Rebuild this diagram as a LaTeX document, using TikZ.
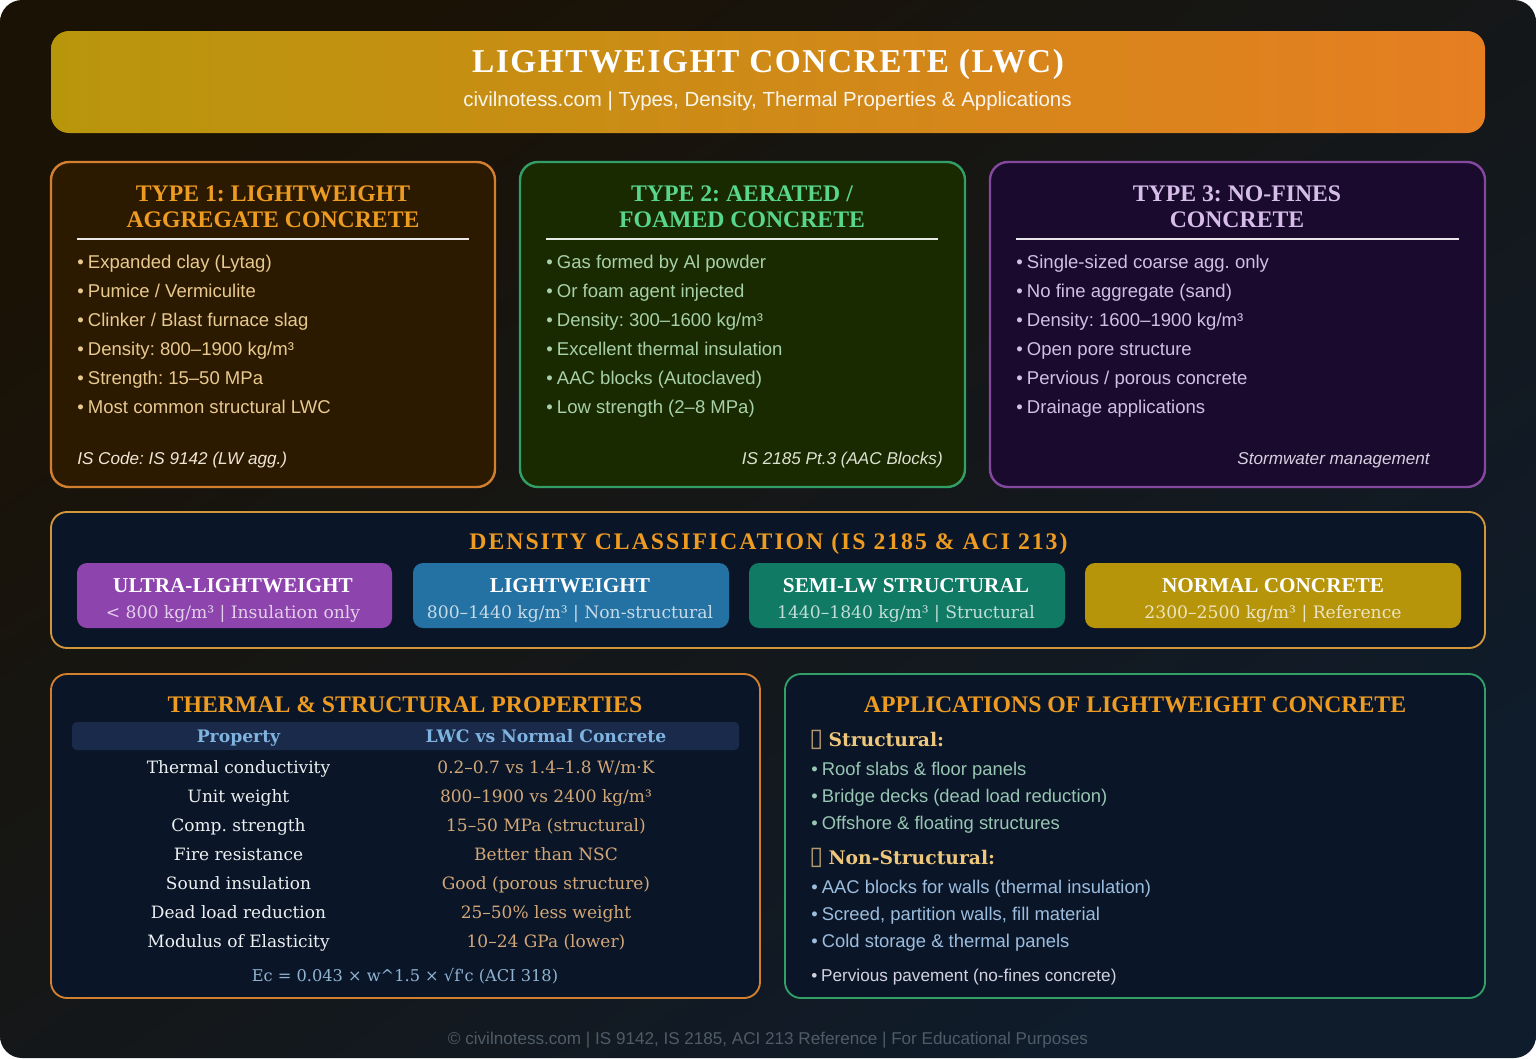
\documentclass[tikz,border=0pt]{standalone}
\usepackage{fontspec}
\setmainfont{Liberation Sans}
\newfontfamily\headface{Liberation Serif}
\newfontfamily\serifface{DejaVu Serif}
\newfontfamily\boxface{DejaVu Sans}
\frenchspacing
\definecolor{bgA}{HTML}{1A1205}
\definecolor{bgB}{HTML}{0F1C2C}
\definecolor{headA}{HTML}{B8960C}
\definecolor{headB}{HTML}{E67E22}
\definecolor{panel}{HTML}{0A1628}
\definecolor{orange}{HTML}{EE9B22}
\definecolor{edgeO}{HTML}{D27F30}
\definecolor{edgeD}{HTML}{D2963A}
\definecolor{edgeG}{HTML}{32A066}
\definecolor{edgeP}{HTML}{84499F}
\definecolor{fillO}{HTML}{2C1A00}
\definecolor{fillG}{HTML}{1A2A00}
\definecolor{fillP}{HTML}{1A0A2E}
\definecolor{textO}{HTML}{E8C98F}
\definecolor{textG}{HTML}{A8D0AA}
\definecolor{textP}{HTML}{D0C0E2}
\definecolor{noteO}{HTML}{F0E6D8}
\definecolor{noteG}{HTML}{DCE2D2}
\definecolor{noteP}{HTML}{D6D0E0}
\definecolor{titleG}{HTML}{58D68D}
\definecolor{titleP}{HTML}{D7BEEA}
\definecolor{pillP}{HTML}{8E44AD}
\definecolor{pillB}{HTML}{2471A3}
\definecolor{pillG}{HTML}{117A65}
\definecolor{pillY}{HTML}{B7950B}
\definecolor{band}{HTML}{1A2A4A}
\definecolor{bandtext}{HTML}{7FB3E0}
\definecolor{rowval}{HTML}{D3A878}
\definecolor{rowkey}{HTML}{ECF0F1}
\definecolor{formula}{HTML}{90B4D2}
\definecolor{appG}{HTML}{98C6B2}
\definecolor{appB}{HTML}{9CBDDE}
\definecolor{appC}{HTML}{D2D2DE}
\definecolor{apphead}{HTML}{EEC67C}
\definecolor{appbox}{HTML}{B49A70}
\definecolor{foot}{HTML}{4F5B66}
\newcommand{\px}[2]{\fontsize{#1}{#2}\selectfont}
\newcommand{\tofu}{\makebox[13pt][l]{\color{appbox}\boxface\mdseries\hspace{-1.5pt}\fontsize{19}{19}\selectfont ▯}}
\tikzset{
  sans/.style = {anchor=base west, inner sep=0pt, font=\px{13.9}{17}},
  bigtitle/.style = {anchor=base, inner sep=0pt, text=white, font=\headface\bfseries\addfontfeature{LetterSpace=4.65}\px{25}{28}},
  cardhead/.style = {anchor=base, inner sep=0pt, font=\headface\bfseries\px{17.8}{20}},
  sechead/.style = {anchor=base, inner sep=0pt, text=orange, font=\headface\bfseries\px{17.8}{20}},
  pillhead/.style = {anchor=base, inner sep=0pt, text=white, font=\headface\bfseries\px{15.9}{18}},
  pillsub/.style = {anchor=base, inner sep=0pt, font=\serifface\px{12.87}{16}},
  rowtext/.style = {anchor=base, inner sep=0pt, font=\serifface\px{12.75}{16}},
  apphd/.style = {anchor=base west, inner sep=0pt, text=apphead, font=\serifface\bfseries\px{14.06}{18}},
  note/.style = {inner sep=0pt, font=\itshape\px{12.85}{16}}
}
\begin{document}
\begin{tikzpicture}[x=0.75pt,y=-0.75pt]
  \useasboundingbox (0,0) rectangle (1536,1058);
  % page
  \shade[top color=bgA,bottom color=bgB,shading angle=34.6,rounded corners=16.5pt] (0,0) rectangle (1536,1058);
  % header
  \shade[left color=headA,right color=headB,rounded corners=13.5pt] (51,31) rectangle (1485,133);
  \node[bigtitle] (title) at (768,72) {LIGHTWEIGHT CONCRETE (LWC)};
  \node[anchor=base,inner sep=0pt,text=white,opacity=0.92,font=\px{15.33}{18}] (subtitle) at (767.5,106) {civilnotess.com | Types, Density, Thermal Properties \& Applications};
  % type cards
  \foreach \name/\xa/\xb/\ecol/\fcol in {one/51/495/edgeO/fillO,two/520/965/edgeG/fillG,three/990/1485/edgeP/fillP} {
    \draw[\ecol,fill=\fcol,line width=1.8pt,rounded corners=13.5pt] (\xa,162) rectangle (\xb,487);
  }
  \draw[white,opacity=0.9,line width=1.1pt] (77,239) -- (469,239);
  \draw[white,opacity=0.9,line width=1.1pt] (546,239) -- (938,239);
  \draw[white,opacity=0.9,line width=1.1pt] (1016,239) -- (1459,239);
  \node[cardhead,text=orange] (oneA) at (273,201.5) {TYPE 1: LIGHTWEIGHT};
  \node[cardhead,text=orange] (oneB) at (273,227) {AGGREGATE CONCRETE};
  \node[cardhead,text=titleG] (twoA) at (742,201.5) {TYPE 2: AERATED /};
  \node[cardhead,text=titleG] (twoB) at (742,227) {FOAMED CONCRETE};
  \node[cardhead,text=titleP] (threeA) at (1237,201.5) {TYPE 3: NO-FINES};
  \node[cardhead,text=titleP] (threeB) at (1237,227) {CONCRETE};
  \foreach \Y/\txt [count=\i] in {268/{Expanded clay (Lytag)},297/{Pumice / Vermiculite},326/{Clinker / Blast furnace slag},355/{Density: 800–1900 kg/m³},384/{Strength: 15–50 MPa},413/{Most common structural LWC}} {
    \node[sans,text=textO] (oneitem\i) at (77,\Y) {•\kern-0.7pt{} \txt};
  }
  \foreach \Y/\txt [count=\i] in {268/{Gas formed by Al powder},297/{Or foam agent injected},326/{Density: 300–1600 kg/m³},355/{Excellent thermal insulation},384/{AAC blocks (Autoclaved)},413/{Low strength (2–8 MPa)}} {
    \node[sans,text=textG] (twoitem\i) at (546,\Y) {•\kern-0.7pt{} \txt};
  }
  \foreach \Y/\txt [count=\i] in {268/{Single-sized coarse agg. only},297/{No fine aggregate (sand)},326/{Density: 1600–1900 kg/m³},355/{Open pore structure},384/{Pervious / porous concrete},413/{Drainage applications}} {
    \node[sans,text=textP] (threeitem\i) at (1016,\Y) {•\kern-0.7pt{} \txt};
  }
  \node[note,anchor=base west,text=noteO] (onenote) at (77,464) {IS Code: IS 9142 (LW agg.)};
  \node[note,anchor=base east,text=noteG] (twonote) at (943,464) {IS 2185 Pt.3 (AAC Blocks)};
  \node[note,anchor=base east,text=noteP] (threenote) at (1430,464) {Stormwater management};
  % density classes
  \draw[edgeD,fill=panel,line width=1.4pt,rounded corners=12pt] (51,512) rectangle (1485,648);
  \node[sechead,font=\headface\bfseries\addfontfeature{LetterSpace=8.4}\px{17.8}{20}] (density) at (768.5,549) {DENSITY CLASSIFICATION (IS 2185 \& ACI 213)};
  \foreach \name/\xa/\xb/\xc/\pcol/\head/\sub in {ultra/77/392/233/pillP/ULTRA-LIGHTWEIGHT/{< 800 kg/m³ | Insulation only},light/413/729/570/pillB/LIGHTWEIGHT/{800–1440 kg/m³ | Non-structural},semi/749/1065/906/pillG/SEMI-LW STRUCTURAL/{1440–1840 kg/m³ | Structural},normal/1085/1461/1273/pillY/NORMAL CONCRETE/{2300–2500 kg/m³ | Reference}} {
    \fill[\pcol,rounded corners=7.5pt] (\xa,563) rectangle (\xb,628);
    \node[pillhead] (\name head) at (\xc,592) {\head};
    \node[pillsub,text=white,opacity=0.75] (\name sub) at (\xc,618) {\sub};
  }
  % properties
  \draw[edgeO,fill=panel,line width=1.4pt,rounded corners=12pt] (51,674) rectangle (760,998);
  \node[sechead] (props) at (405,712) {THERMAL \& STRUCTURAL PROPERTIES};
  \fill[band,rounded corners=3.5pt] (72,722) rectangle (739,750);
  \node[rowtext,text=bandtext,font=\serifface\bfseries\px{12.9}{16}] (propkey) at (238.5,742) {Property};
  \node[rowtext,text=bandtext,font=\serifface\bfseries\px{12.9}{16}] (propval) at (546,742) {LWC vs Normal Concrete};
  \foreach \Y/\key/\val [count=\i] in {773/Thermal conductivity/{0.2–0.7 vs 1.4–1.8 W/m·K},802/Unit weight/{800–1900 vs 2400 kg/m³},831/Comp. strength/15–50 MPa (structural),860/Fire resistance/Better than NSC,889/Sound insulation/Good (porous structure),918/Dead load reduction/25–50\% less weight,947/Modulus of Elasticity/10–24 GPa (lower)} {
    \node[rowtext,text=rowkey] (key\i) at (238.5,\Y) {\key};
    \node[rowtext,text=rowval] (val\i) at (546,\Y) {\val};
  }
  \node[rowtext,text=formula,font=\serifface\px{12.15}{16}] (formula) at (405,981) {Ec = 0.043 × w\string^1.5 × √f'c (ACI 318)};
  % applications
  \draw[edgeG,fill=panel,line width=1.4pt,rounded corners=12pt] (785,674) rectangle (1485,998);
  \node[sechead] (apps) at (1135,712) {APPLICATIONS OF LIGHTWEIGHT CONCRETE};
  \node[apphd] (structural) at (811,746) {\tofu Structural:};
  \node[apphd] (nonstructural) at (811,864) {\tofu Non-Structural:};
  \foreach \Y/\txt [count=\i] in {775/{Roof slabs \& floor panels},802/{Bridge decks (dead load reduction)},829/{Offshore \& floating structures}} {
    \node[sans,text=appG,font=\px{13.8}{16}] (sitem\i) at (811,\Y) {•\kern-0.7pt{} \txt};
  }
  \foreach \Y/\txt [count=\i] in {893/{AAC blocks for walls (thermal insulation)},920/{Screed, partition walls, fill material},947/{Cold storage \& thermal panels}} {
    \node[sans,text=appB,font=\px{13.8}{16}] (nitem\i) at (811,\Y) {•\kern-0.7pt{} \txt};
  }
  \node[sans,text=appC,font=\px{12.9}{16}] (nitem4) at (811,981) {•\kern-0.7pt{} Pervious pavement (no-fines concrete)};
  % footer
  \node[anchor=base,inner sep=0pt,text=foot,font=\px{12.82}{16}] (footer) at (768,1044) {© civilnotess.com | IS 9142, IS 2185, ACI 213 Reference | For Educational Purposes};
\end{tikzpicture}
\end{document}
